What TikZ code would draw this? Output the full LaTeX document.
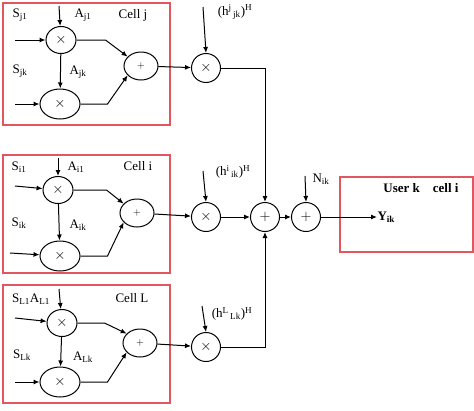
\documentclass[tikz,border=0pt]{standalone}
\usepackage{fontspec}
\setmainfont{Liberation Serif}
\usetikzlibrary{arrows.meta,shapes.geometric}
\definecolor{cellred}{RGB}{226,86,96}
\tikzset{
  mul/.style={draw,ellipse,minimum width=30pt,minimum height=27pt,inner sep=0pt,font=\Large},
  bigmul/.style={draw,ellipse,minimum width=40pt,minimum height=30pt,inner sep=0pt,font=\Large},
  add/.style={draw,ellipse,minimum width=34pt,minimum height=28pt,inner sep=0pt},
  sum/.style={draw,circle,minimum size=29pt,inner sep=0pt,font=\Large},
  cellbox/.style={draw=cellred,line width=1.2pt},
  lbl/.style={font=\fontsize{13}{15}\selectfont,inner sep=0pt}
}
\begin{document}
\begin{tikzpicture}[x=1pt,y=-1pt,line width=1pt]
  \useasboundingbox (0,0) rectangle (474,410);
  % cell boxes
  \draw[cellbox] (3,3) rectangle (170,125);
  \draw[cellbox] (3,155) rectangle (170,273);
  \draw[cellbox] (3,285) rectangle (170,403);
  \draw[cellbox] (340,177) rectangle (473,252);
  % cell j
  \draw
    (61,40) node[mul] (mj1){$\times$}
    (60,104) node[bigmul] (mjk){$\times$}
    (141,66) node[add] (pj){$+$}
    (206,68) node[sum] (xj){$\times$};
  \node[lbl] (sj1) at (20,15) {S\textsubscript{j1}};
  \node[lbl] (aj1) at (83,15) {A\textsubscript{j1}};
  \node[lbl] (cj) at (133,15) {Cell j};
  \node[lbl] (sjk) at (20,71) {S\textsubscript{jk}};
  \node[lbl] (ajk) at (78,72) {A\textsubscript{jk}};
  \node[lbl] (hj) at (235,12) {(h\textsuperscript{j}\textsubscript{\,jk})\textsuperscript{H}};
  \coordinate (inj1) at (15,40);
  \coordinate (injk) at (15,104);
  \coordinate (topj) at (59,6);
  \coordinate (hjin) at (203,7);
  % cell i
  \draw
    (58,190) node[mul] (mi1){$\times$}
    (60,256) node[bigmul] (mik){$\times$}
    (137,213) node[add] (pi){$+$}
    (206,217) node[sum] (xi){$\times$};
  \node[lbl] (si1) at (19,167) {S\textsubscript{i1}};
  \node[lbl] (ai1) at (76,167) {A\textsubscript{i1}};
  \node[lbl] (ci) at (138,166) {Cell i};
  \node[lbl] (sik) at (19,223) {S\textsubscript{ik}};
  \node[lbl] (aik) at (78,225) {A\textsubscript{ik}};
  \node[lbl] (hi) at (233,172) {(h\textsuperscript{i}\textsubscript{\,ik})\textsuperscript{H}};
  \coordinate (ini1) at (15,186);
  \coordinate (inik) at (10,253);
  \coordinate (topi) at (58,158);
  \coordinate (hiin) at (203,171);
  % cell L
  \draw
    (62,323) node[mul] (mL1){$\times$}
    (60,382) node[bigmul] (mLk){$\times$}
    (140,343) node[add] (pL){$+$}
    (206,347) node[sum] (xL){$\times$};
  \node[lbl] (sL1) at (31,299) {S\textsubscript{L1}A\textsubscript{L1}};
  \node[lbl] (cL) at (132,298) {Cell L};
  \node[lbl] (sLk) at (22,355) {S\textsubscript{Lk}};
  \node[lbl] (aLk) at (83,357) {A\textsubscript{Lk}};
  \node[lbl] (hL) at (232,314) {(h\textsuperscript{L}\textsubscript{\,Lk})\textsuperscript{H}};
  \coordinate (inL1) at (15,318);
  \coordinate (inLk) at (15,382);
  \coordinate (topL) at (59,289);
  \coordinate (hLin) at (202,306);
  % output side
  \draw
    (265,217) node[sum] (s){$+$}
    (306,217) node[sum] (n){$+$};
  \node[lbl] (nik) at (321,179) {N\textsubscript{ik}};
  \node[lbl,font=\fontsize{13}{15}\selectfont\bfseries] (user) at (421,188) {User k\hspace{1em}cell i};
  \node[lbl,font=\fontsize{13}{15}\selectfont\bfseries,anchor=west] (y) at (377,217) {Y\textsubscript{ik}};
  \coordinate (nin) at (305,176);
  \begin{scope}[-{Latex[length=6pt,width=5pt]}]
    \draw (inj1) to (mj1);
    \draw (injk) to (mjk);
    \draw (topj) to (mj1);
    \draw (mj1) to (mjk);
    \draw (mj1.east) -- ++(29,0) to (pj.145);
    \draw (mjk.east) -- ++(27,0) to (pj.215);
    \draw (pj) to (xj);
    \draw (hjin) to (xj.north);
    \draw (ini1) to (mi1);
    \draw (inik) to (mik);
    \draw (topi) to (mi1);
    \draw (mi1) to (mik);
    \draw (mi1.east) -- ++(33,0) to (pi.145);
    \draw (mik.east) -- ++(27,0) to (pi.215);
    \draw (pi) to (xi);
    \draw (hiin) to (xi.north);
    \draw (inL1) to (mL1);
    \draw (inLk) to (mLk);
    \draw (topL) to (mL1);
    \draw (mL1) to (mLk);
    \draw (mL1.east) -- ++(27,0) to (pL.145);
    \draw (mLk.east) -- ++(27,0) to (pL.215);
    \draw (pL) to (xL);
    \draw (hLin) to (xL.north);
    \draw (xj.east) -| (s.north);
    \draw (xL.east) -| (s.south);
    \draw (xi) to (s);
    \draw (s) to (n);
    \draw (nin) to (n.north);
    \draw (n) to (y);
  \end{scope}
\end{tikzpicture}
\end{document}
